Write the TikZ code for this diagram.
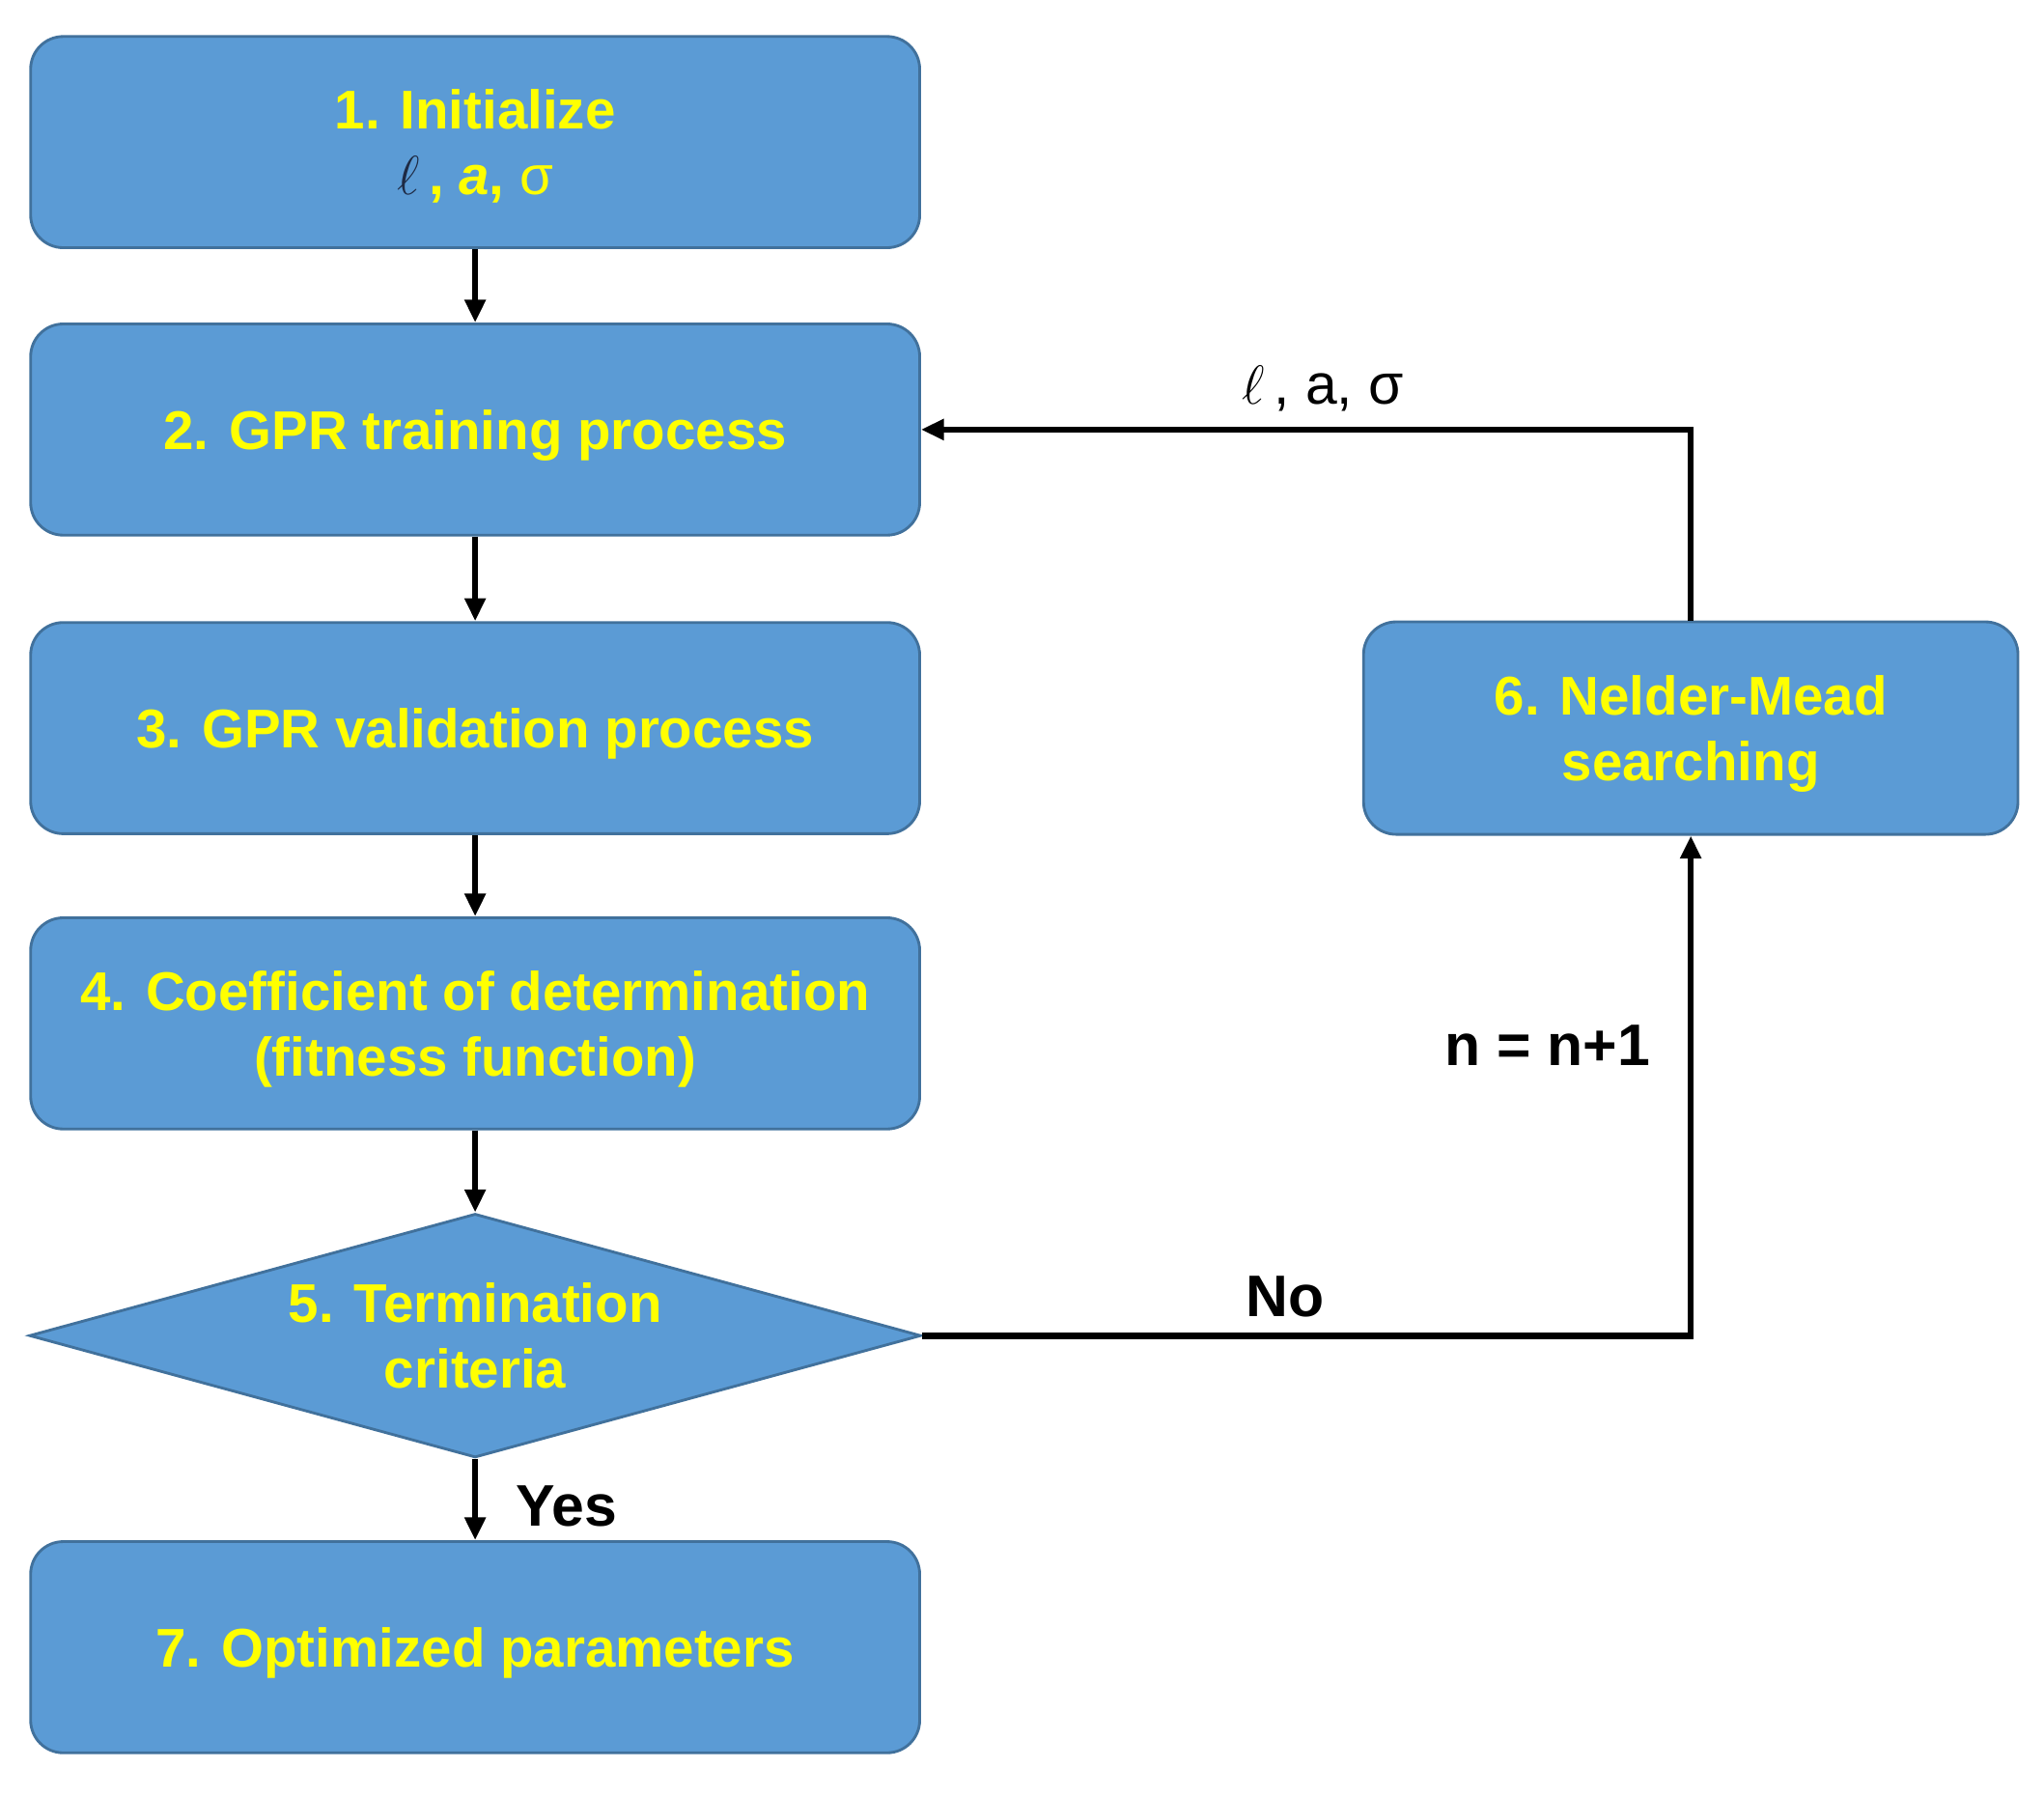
\documentclass[tikz,border=0pt]{standalone}
\usepackage{fontspec}
\setmainfont{Liberation Sans}
\usepackage{xcolor}
\usetikzlibrary{arrows.meta,shapes.geometric}
\definecolor{cfill}{HTML}{5B9BD5}
\definecolor{cedge}{HTML}{41719C}
\definecolor{cyell}{HTML}{FFFF00}
\definecolor{cell}{HTML}{1E2A44}
\newcommand{\boxfont}{\fontsize{11.9}{14.2}\selectfont\bfseries}
\newcommand{\lblfont}{\fontsize{12.8}{15}\selectfont\bfseries}
\tikzset{>={Triangle[length=5pt,width=4.4pt]},
  flow/.style={line width=1.4pt,->},
  procbox/.style={draw=cedge,line width=0.6pt,fill=cfill,rounded corners=0.25cm,text depth=0pt,
    minimum width=6.82cm,minimum height=1.62cm,inner sep=0pt,align=center,text=cyell,font=\boxfont},
  testbox/.style={diamond,draw=cedge,line width=0.6pt,fill=cfill,aspect=3.66,text depth=0pt,
    minimum width=6.84cm,minimum height=1.87cm,inner sep=0pt,align=center,text=cyell,font=\boxfont},
  lbl/.style={font=\lblfont,text=black}}

\begin{document}
\begin{tikzpicture}
\useasboundingbox (0,0) rectangle (15.68,-13.77);

% ============ main column ============
\node[procbox] (init) at (3.645,-1.09) {1. Initialize\\ \textcolor{cell}{$\ell$}\,, \textit{a}, \mdseries σ};
\node[procbox] (train) at (3.645,-3.295) {2. GPR training process};
\node[procbox] (valid) at (3.645,-5.585) {3. GPR validation process};
\node[procbox] (coef) at (3.645,-7.85) {4. Coefficient of determination\\(fitness function)};
\node[testbox] (term) at (3.645,-10.245) {5. Termination\\criteria};
\node[procbox] (opt) at (3.645,-12.635) {7. Optimized parameters};

% ============ search loop ============
\node[procbox,minimum width=5.02cm,minimum height=1.63cm] (nm) at (12.97,-5.585) {6. Nelder-Mead\\searching};

\draw[flow] (init.south) -- (train.north);
\draw[flow] (train.south) -- (valid.north);
\draw[flow] (valid.south) -- (coef.north);
\draw[flow] (coef.south) -- (term.north);
\draw[flow] (term.south) -- node[lbl,right=0.17cm,yshift=-0.05cm] (yes) {Yes} (opt.north);
% no: go round the loop
\draw[flow] (term.east) -| node[lbl,pos=0.236,above=0cm] (no) {No}
  node[lbl,pos=0.79,left=0.17cm] (incr) {n = n+1} (nm.south);
\draw[flow] (nm.north) |- node[pos=0.739,above=0cm,font=\fontsize{12.4}{15}\selectfont] (upd) {$\ell$\,, a, σ} (train.east);

\end{tikzpicture}
\end{document}
